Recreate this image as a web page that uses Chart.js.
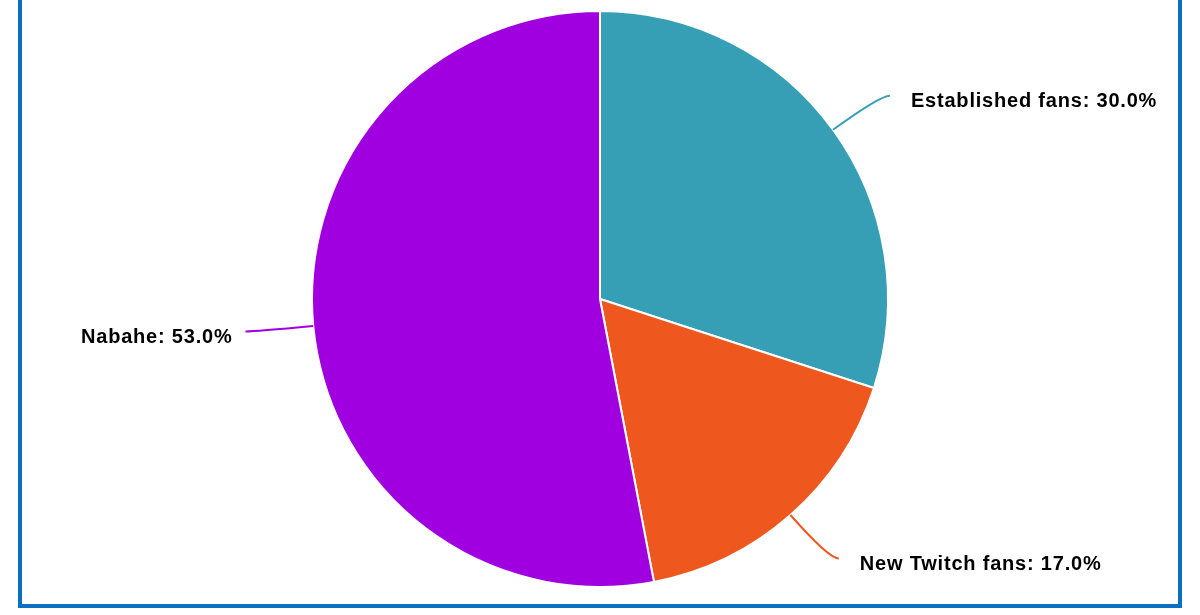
<!DOCTYPE html>
<html>
<head>
<meta charset="utf-8">
<script src="https://cdn.jsdelivr.net/npm/chart.js@4"></script>
<style>
  html, body { margin: 0; padding: 0; background: #fff; overflow: hidden; }
  #frame {
    position: absolute; left: 18px; top: -20px; width: 1164px; height: 628px;
    box-sizing: border-box; border: 4px solid #0A70C2;
  }
  #wrap { position: absolute; left: 0; top: 0; width: 1200px; height: 615px; }
</style>
</head>
<body>
<div id="frame"></div>
<div id="wrap"><canvas id="pieChart"></canvas></div>
<script>
// Data for the chart
const categories = ['Established fans', 'New Twitch fans', 'Nabahe'];
const shares = [30.0, 17.0, 53.0];
const sliceColors = ['#369FB6', '#EE581E', '#A000E0'];

// Draws outside labels with curved leader lines
const outsideLabels = {
    id: 'outsideLabels',
    afterDraw(chart) {
        const ctx = chart.ctx;
        const arcs = chart.getDatasetMeta(0).data;
        ctx.save();
        ctx.font = 'bold 20px "Liberation Sans", Arial, sans-serif';
        ctx.letterSpacing = '0.8px';
        ctx.fillStyle = '#000';
        arcs.forEach((arc, i) => {
            const mid = (arc.startAngle + arc.endAngle) / 2;
            const cos = Math.cos(mid), sin = Math.sin(mid);
            const r = arc.outerRadius;
            const sx = arc.x + cos * r, sy = arc.y + sin * r;
            const cx = arc.x + cos * (r + 58), cy = arc.y + sin * (r + 58);
            const side = cos >= 0 ? 1 : -1;
            const ex = cx + side * 10, ey = cy;

            ctx.beginPath();
            ctx.moveTo(sx, sy);
            ctx.quadraticCurveTo(cx, cy, ex, ey);
            ctx.strokeStyle = sliceColors[i];
            ctx.lineWidth = 2;
            ctx.stroke();

            const text = categories[i] + ': ' + shares[i].toFixed(1) + '%';
            ctx.textBaseline = 'alphabetic';
            ctx.textAlign = side > 0 ? 'left' : 'right';
            ctx.fillText(text, ex + (side > 0 ? 21 : -13), ey + 11);
        });
        ctx.restore();
    }
};

// Config for the chart
const config = {
    type: 'pie',
    data: {
        labels: categories,
        datasets: [{
            data: shares,
            backgroundColor: sliceColors,
            borderColor: '#ffffff',
            borderWidth: 2
        }]
    },
    options: {
        responsive: true,
        maintainAspectRatio: false,
        animation: false,
        layout: { padding: { top: 10, bottom: 27 } },
        plugins: {
            legend: { display: false },
            tooltip: { enabled: false }
        }
    },
    plugins: [outsideLabels]
};

const pieChart = new Chart(document.getElementById('pieChart'), config);
</script>
</body>
</html>
